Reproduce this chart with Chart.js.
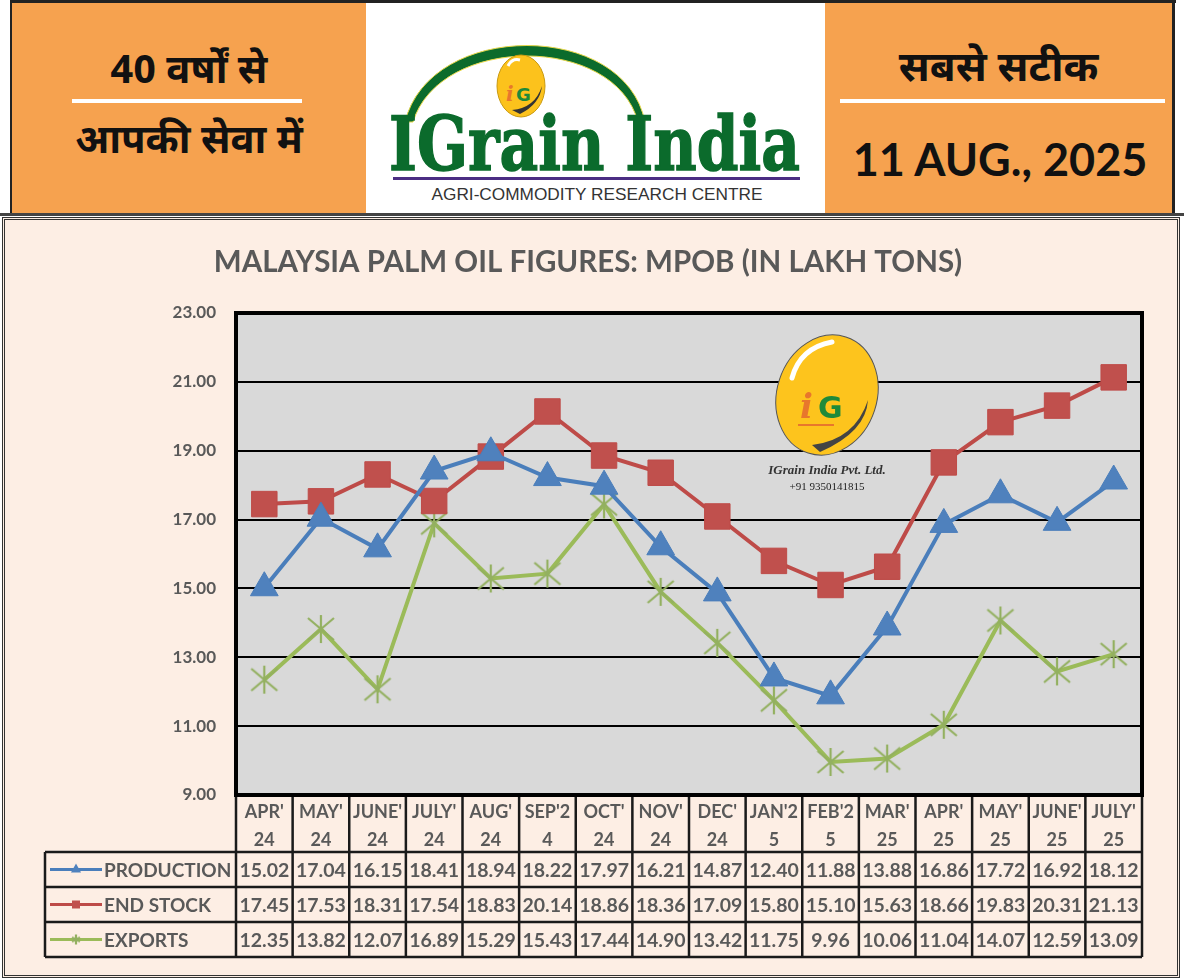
<!DOCTYPE html>
<html><head><meta charset="utf-8">
<script src="https://cdn.jsdelivr.net/npm/chart.js@4.4.1/dist/chart.umd.min.js"></script>
<style>
body{margin:0;width:1184px;height:980px;background:#fff;position:relative;overflow:hidden;font-family:Lato,"Open Sans",sans-serif}
.abs{position:absolute}
.orange{background:#f6a24f}
.hin{font-family:"Noto Sans Devanagari","Lohit Devanagari","Noto Sans",sans-serif;font-weight:700;color:#111;text-align:center;white-space:nowrap}
#panel{left:2px;top:217px;width:1172px;height:755px;border:3px double #333;background:#fdeee4}
#chartWrap{left:0;top:217px;width:1184px;height:763px}
</style></head><body>
<!-- header -->
<div class="abs" style="left:10px;top:0;width:1166px;height:3px;background:#222"></div>
<div class="abs" style="left:10px;top:0;width:2px;height:216px;background:#222"></div>
<div class="abs" style="left:1172px;top:0;width:3px;height:216px;background:#222"></div>
<div class="abs orange" style="left:12px;top:3px;width:354px;height:211px"></div>
<div class="abs orange" style="left:825px;top:3px;width:347px;height:211px"></div>
<div class="abs" style="left:0;top:213px;width:1184px;height:3px;background:#444"></div>
<div class="abs hin" style="left:12px;top:48px;width:354px;font-size:40px;line-height:50px">40 वर्षों से</div>
<div class="abs" style="left:72px;top:99px;width:230px;height:4px;background:#fff"></div>
<div class="abs hin" style="left:12px;top:118px;width:354px;font-size:40px;line-height:50px">आपकी सेवा में</div>
<div class="abs hin" style="left:825px;top:46px;width:347px;font-size:42px;line-height:50px">सबसे सटीक</div>
<div class="abs" style="left:840px;top:99px;width:325px;height:4px;background:#fff"></div>
<div class="abs" style="left:835px;top:134px;width:330px;text-align:center;font:700 45px Lato,sans-serif;color:#111;line-height:50px">11 AUG., 2025</div>
<svg class="abs" style="left:366px;top:3px" width="459" height="211" viewBox="366 3 459 211">
  <path d="M405 122 C 430 20, 625 20, 645 122 L 638 122 C 615 34, 440 34, 413 122 Z" fill="#0b6b2c" stroke="#e8d84a" stroke-width="1"/>
  <ellipse cx="521" cy="86" rx="24" ry="31" fill="#fcc21c" stroke="#c99a10" stroke-width="1"/>
  <path d="M508 66 Q 512 58 520 60" stroke="#fff" stroke-width="3" fill="none"/>
  <text x="506" y="101" font-family="DejaVu Serif" font-style="italic" font-weight="700" font-size="20" fill="#e8772c">i</text>
  <text x="516" y="101" font-family="DejaVu Sans" font-weight="700" font-size="18" fill="#1e8a3a">G</text>
  <path d="M512 110 Q 535 108 542 86 Q 540 104 520 114 Z" fill="#333"/>
  <text x="389" y="170" textLength="411" lengthAdjust="spacingAndGlyphs" font-family="DejaVu Serif" font-weight="700" font-size="74" fill="#0b6b2c" stroke="#0b6b2c" stroke-width="1.5">IGrain India</text>
  <rect x="393" y="177" width="407" height="3" fill="#4b2d83"/>
  <text x="597" y="200" text-anchor="middle" textLength="331" lengthAdjust="spacingAndGlyphs" font-family="Liberation Sans, Arial, sans-serif" font-size="17" fill="#333">AGRI-COMMODITY RESEARCH CENTRE</text>
</svg>
<!-- chart panel -->
<div id="panel" class="abs"></div>
<div id="chartWrap" class="abs"><canvas id="c" width="1184" height="763"></canvas></div>
<!-- watermark -->
<svg class="abs" style="left:760px;top:325px" width="140" height="175" viewBox="760 325 140 175">
  <ellipse cx="827" cy="395" rx="50" ry="61" transform="rotate(18 827 395)" fill="#fdc41d" stroke="#555" stroke-width="1"/>
  <path d="M792 378 Q 800 348 832 342" stroke="#fff" stroke-width="5" fill="none" stroke-linecap="round"/>
  <text x="800" y="418" font-family="DejaVu Serif" font-style="italic" font-weight="700" font-size="34" fill="#e8772c">i</text>
  <text x="818" y="418" font-family="DejaVu Sans" font-weight="700" font-size="30" fill="#1e8a3a">G</text>
  <rect x="798" y="424" width="36" height="2" fill="#e8772c"/>
  <path d="M812 445 Q 855 440 868 400 Q 866 432 820 452 Z" fill="#444"/>
  <text x="827" y="474" text-anchor="middle" font-family="Liberation Serif, DejaVu Serif, serif" font-style="italic" font-weight="700" font-size="13" fill="#333">IGrain India Pvt. Ltd.</text>
  <text x="827" y="490" text-anchor="middle" font-family="Liberation Serif, DejaVu Serif, serif" font-size="11" fill="#222">+91 9350141815</text>
</svg>
<script>
// ---- data ----
const categories = [["APR'","24"],["MAY'","24"],["JUNE'","24"],["JULY'","24"],["AUG'","24"],["SEP'2","4"],["OCT'","24"],["NOV'","24"],["DEC'","24"],["JAN'2","5"],["FEB'2","5"],["MAR'","25"],["APR'","25"],["MAY'","25"],["JUNE'","25"],["JULY'","25"]];
const production = [15.02,17.04,16.15,18.41,18.94,18.22,17.97,16.21,14.87,12.40,11.88,13.88,16.86,17.72,16.92,18.12];
const endStock   = [17.45,17.53,18.31,17.54,18.83,20.14,18.86,18.36,17.09,15.80,15.10,15.63,18.66,19.83,20.31,21.13];
const exportsVals= [12.35,13.82,12.07,16.89,15.29,15.43,17.44,14.90,13.42,11.75,9.96,10.06,11.04,14.07,12.59,13.09];
const seriesNames = ["PRODUCTION","END STOCK","EXPORTS"];
const yTicks = [9,11,13,15,17,19,21,23];
const chartTitle = "MALAYSIA PALM OIL FIGURES: MPOB (IN LAKH TONS)";

const TXT = '#595959';
const FONT = 'Lato, "Open Sans", sans-serif';

function starMarker(color, size){
  const c=document.createElement('canvas'); c.width=size; c.height=size;
  const g=c.getContext('2d'); g.strokeStyle=color; g.lineWidth=2.2;
  const m=3;
  g.beginPath();
  g.moveTo(m,m+2); g.lineTo(size-m,size-m-2);
  g.moveTo(size-m,m+2); g.lineTo(m,size-m-2);
  g.moveTo(size/2,m-1); g.lineTo(size/2,size-m+1);
  g.stroke(); return c;
}
const starBig = starMarker('#93b060',32);
const starSmall = starMarker('#93b060',14);

const tablePlugin = {
  id:'tablePlugin',
  beforeDraw(chart){
    const {ctx, chartArea:a} = chart;
    ctx.save(); ctx.fillStyle='#d9d9d9'; ctx.fillRect(a.left,a.top,a.width,a.height); ctx.restore();
  },
  beforeDatasetsDraw(chart){
    const {ctx, chartArea:a} = chart;
    ctx.save(); ctx.strokeStyle='#000'; ctx.lineWidth=4;
    ctx.strokeRect(a.left,a.top,a.width,a.height); ctx.restore();
  },
  afterDraw(chart){
    const {ctx, chartArea:a} = chart;
    const xs = chart.scales.x;
    const n = categories.length;
    const w = a.width/n;
    // title
    ctx.save();
    ctx.fillStyle=TXT; ctx.font='700 29.5px '+FONT; ctx.textAlign='center'; ctx.textBaseline='middle';
    ctx.fillText(chartTitle, 588, 45);
    // table geometry
    const headTop = a.bottom+2, rowTop = a.bottom+57, rowH = 35, tblBottom = rowTop+3*rowH;
    const legLeft = 45;
    ctx.strokeStyle='#1a1a1a'; ctx.lineWidth=2.5;
    ctx.beginPath();
    for(let i=0;i<=n;i++){
      const x = (i<n ? xs.getPixelForValue(i)-w/2 : xs.getPixelForValue(n-1)+w/2);
      ctx.moveTo(x, headTop); ctx.lineTo(x, tblBottom);
    }
    for(let r=0;r<=3;r++){
      const y=rowTop+r*rowH; ctx.moveTo(legLeft,y); ctx.lineTo(a.right,y);
    }
    ctx.moveTo(legLeft,rowTop); ctx.lineTo(legLeft,tblBottom);
    ctx.stroke();
    // values
    const rows=[production,endStock,exportsVals];
    ctx.font='700 19.5px '+FONT; ctx.fillStyle=TXT; ctx.textAlign='center';
    rows.forEach((vals,r)=>{
      const cy=rowTop+r*rowH+rowH/2+1;
      vals.forEach((v,i)=>ctx.fillText(v.toFixed(2), xs.getPixelForValue(i), cy));
    });
    // legend keys
    const ds = chart.data.datasets;
    ctx.textAlign='left'; ctx.font='700 19px '+FONT;
    ds.forEach((d,r)=>{
      const cy=rowTop+r*rowH+rowH/2;
      ctx.strokeStyle=d.borderColor; ctx.lineWidth=3;
      ctx.beginPath(); ctx.moveTo(50,cy); ctx.lineTo(102,cy); ctx.stroke();
      const mx=76;
      ctx.fillStyle=d.pointBackgroundColor;
      if(r===0){ ctx.beginPath(); ctx.moveTo(mx,cy-6); ctx.lineTo(mx+5,cy+3); ctx.lineTo(mx-5,cy+3); ctx.closePath(); ctx.fill(); }
      else if(r===1){ ctx.fillRect(mx-4,cy-4,8,8); }
      else { ctx.drawImage(starSmall, mx-7, cy-7); }
      ctx.fillStyle=TXT; ctx.fillText(seriesNames[r], 104, cy+1);
    });
    ctx.restore();
  }
};

new Chart(document.getElementById('c'), {
  type:'line',
  data:{
    labels: categories,
    datasets:[
      {label:seriesNames[0], data:production, borderColor:'#4a7ebb', backgroundColor:'#4f81bd', pointBackgroundColor:'#4f81bd', pointBorderColor:'#4a7ebb', borderWidth:4, pointStyle:'triangle', pointRadius:16, pointBorderWidth:1, order:1},
      {label:seriesNames[1], data:endStock, borderColor:'#be4b48', backgroundColor:'#c0504d', pointBackgroundColor:'#c0504d', pointBorderColor:'#be4b48', borderWidth:4, pointStyle:'rect', pointRadius:18, pointBorderWidth:1, order:2},
      {label:seriesNames[2], data:exportsVals, borderColor:'#9bbb59', backgroundColor:'#9bbb59', pointBackgroundColor:'#9bbb59', pointBorderColor:'#93b060', borderWidth:4, pointStyle:starBig, pointRadius:16, order:3}
    ]
  },
  options:{
    responsive:false, animation:false, devicePixelRatio:1,
    layout:{padding:{top:96,right:42,bottom:128,left:0}},
    plugins:{legend:{display:false},tooltip:{enabled:false},title:{display:false}},
    scales:{
      x:{
        offset:true,
        grid:{display:false, drawTicks:false},
        border:{display:false},
        ticks:{color:TXT, font:{family:FONT,size:18,weight:'700',lineHeight:1.55}, padding:3, maxRotation:0, autoSkip:false},
        afterFit(s){ s.height=57; }
      },
      y:{
        min:9, max:23,
        grid:{color:'#000', lineWidth:2, drawTicks:false},
        border:{display:false},
        afterBuildTicks(s){ s.ticks = yTicks.map(v=>({value:v})); },
        ticks:{color:TXT, font:{family:FONT,size:17,weight:'700'}, padding:20, callback:v=>Number(v).toFixed(2)},
        afterFit(s){ s.width=236; }
      }
    }
  },
  plugins:[tablePlugin]
});
</script>
</body></html>
